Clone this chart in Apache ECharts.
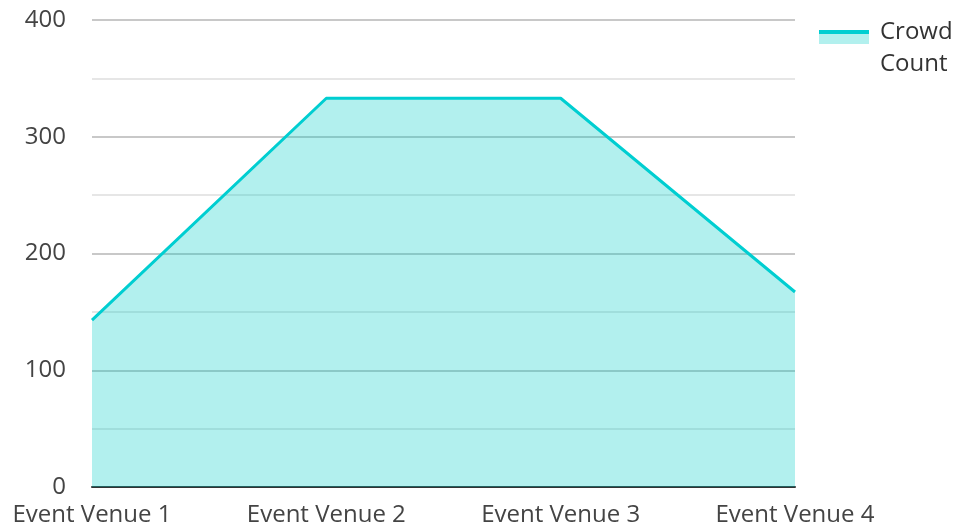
<!DOCTYPE html>
<html>
<head>
<meta charset="utf-8">
<script src="https://cdn.jsdelivr.net/npm/echarts@6/dist/echarts.min.js"></script>
<style>html,body{margin:0;padding:0;background:#fff}#c{width:954px;height:529px}</style>
</head>
<body>
<div id="c"></div>
<script>
const categories = ['Event Venue 1', 'Event Venue 2', 'Event Venue 3', 'Event Venue 4'];
const crowdCount = [143, 333, 333, 167];
const seriesName = 'Crowd\nCount';
const yTicks = [0, 100, 200, 300, 400];

const chart = echarts.init(document.getElementById('c'), null, {renderer: 'canvas'});
chart.setOption({
  animation: false,
  textStyle: {fontFamily: 'Open Sans'},
  grid: {left: 92, right: 159, top: 20, bottom: 42, containLabel: false},
  legend: {
    orient: 'vertical',
    left: 825,
    top: 16,
    padding: 0,
    itemWidth: 50,
    itemHeight: 14,
    itemGap: 10,
    icon: 'rect',
    itemStyle: {color: 'rgba(0,0,0,0)'},
    textStyle: {fontFamily: 'Open Sans', fontSize: 24, color: '#333', lineHeight: 32},
    data: [seriesName]
  },
  graphic: [
    {type: 'rect', left: 819, top: 30, shape: {width: 50, height: 14}, style: {fill: '#b2f0ee'}, z: 100},
    {type: 'rect', left: 819, top: 30, shape: {width: 50, height: 4}, style: {fill: '#00CED1'}, z: 101}
  ],
  xAxis: {
    type: 'category',
    data: categories,
    boundaryGap: false,
    axisLine: {show: true, lineStyle: {color: '#333', width: 2}},
    axisTick: {show: false},
    axisLabel: {fontFamily: 'Open Sans', fontSize: 24, color: '#444', margin: 16},
    splitLine: {show: false}
  },
  yAxis: {
    type: 'value',
    min: yTicks[0],
    max: yTicks[yTicks.length - 1],
    interval: 100,
    axisLine: {show: false},
    axisTick: {show: false},
    axisLabel: {fontFamily: 'Open Sans', fontSize: 24, color: '#444', margin: 26},
    splitLine: {show: true, lineStyle: {color: '#c8c8c8', width: 2}},
    minorTick: {show: false, splitNumber: 2},
    minorSplitLine: {show: true, lineStyle: {color: '#e6e6e6', width: 2}}
  },
  series: [{
    name: seriesName,
    type: 'line',
    data: crowdCount,
    showSymbol: false,
    symbol: 'none',
    lineStyle: {color: '#00CED1', width: 3},
    itemStyle: {color: '#00CED1'},
    areaStyle: {color: 'rgba(0,204,198,0.3)', opacity: 1}
  }]
});
</script>
</body>
</html>
